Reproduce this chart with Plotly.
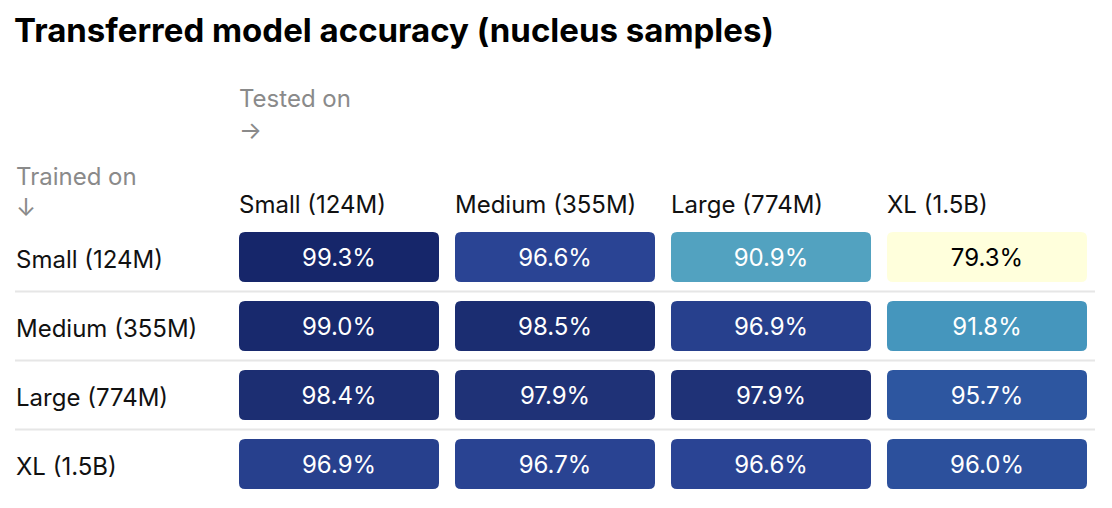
import plotly.graph_objects as go
from plotly.colors import sample_colorscale

# ---- data ----
title = "Transferred model accuracy (nucleus samples)"
tested_label = "Tested on"
trained_label = "Trained on"
models = ["Small (124M)", "Medium (355M)", "Large (774M)", "XL (1.5B)"]
# rows: trained on ; cols: tested on
acc_small = [99.3, 96.6, 90.9, 79.3]
acc_medium = [99.0, 98.5, 96.9, 91.8]
acc_large = [98.4, 97.9, 97.9, 95.7]
acc_xl = [96.9, 96.7, 96.6, 96.0]
matrix = [acc_small, acc_medium, acc_large, acc_xl]

# ---- style ----
W, H = 1112, 508
OFF = 8  # page body margin
FONT = "Inter"
colorscale = [
    [0.0, "#ffffdc"],
    [0.30, "#c2e6b6"],
    [0.58, "#52a2c0"],
    [0.625, "#4596bd"],
    [0.82, "#2d56a0"],
    [0.865, "#2a4494"],
    [0.93, "#1f3277"],
    [1.0, "#16266a"],
]
vmin = min(min(r) for r in matrix)
vmax = max(max(r) for r in matrix)

# pixel geometry -> axis units
col_px, col0_px, cell_w = 216, 339 - OFF, 200
row_px, row0_px, cell_h = 69, 257 - OFF, 50
xr = [-col0_px / col_px, (W - col0_px) / col_px]
yr = [(H - row0_px) / row_px, -row0_px / row_px]
hw = cell_w / 2 / col_px
hh = cell_h / 2 / row_px
rx = 6 / col_px
ry = 6 / row_px
text_dy = 3 / row_px


def ypx(p):
    return (p - OFF - row0_px) / row_px


def rounded(x0, x1, y0, y1):
    return (f"M {x0+rx},{y0} L {x1-rx},{y0} Q {x1},{y0} {x1},{y0+ry} "
            f"L {x1},{y1-ry} Q {x1},{y1} {x1-rx},{y1} L {x0+rx},{y1} "
            f"Q {x0},{y1} {x0},{y1-ry} L {x0},{y0+ry} Q {x0},{y0} {x0+rx},{y0} Z")


shapes = []
xs, ys, texts, tcolors = [], [], [], []
for j, row in enumerate(matrix):
    for i, v in enumerate(row):
        t = (v - vmin) / (vmax - vmin)
        c = sample_colorscale(colorscale, [t])[0]
        shapes.append(dict(type="path", xref="x", yref="y",
                           path=rounded(i - hw, i + hw, j - hh, j + hh),
                           fillcolor=c, line=dict(width=0), layer="below"))
        xs.append(i)
        ys.append(j + text_dy)
        texts.append(f"{v:.1f}%")
        tcolors.append("#000000" if t < 0.3 else "#ffffff")

for j in range(len(matrix) - 1):
    shapes.append(dict(type="line", xref="paper", yref="y",
                       x0=(15 - OFF) / W, x1=(1095 - OFF) / W, y0=j + 0.5, y1=j + 0.5,
                       line=dict(color="#e6e6e6", width=2), layer="below"))

fig = go.Figure()
fig.add_trace(go.Scatter(x=xs, y=ys, mode="text", text=texts,
                         textfont=dict(family=FONT, size=24, color=tcolors),
                         hoverinfo="skip", showlegend=False))

SZ = 24
lx = (16 - OFF) / W
ann = []
for i, m in enumerate(models):
    ann.append(dict(x=i - hw, y=ypx(204), xref="x", yref="y",
                    text=m, showarrow=False, xanchor="left", yanchor="middle",
                    xshift=-2, font=dict(family=FONT, size=SZ, color="#111111")))
    ann.append(dict(x=lx, y=i, xref="paper", yref="y",
                    text=m, showarrow=False, xanchor="left", yanchor="middle",
                    xshift=-2, yshift=-2, font=dict(family=FONT, size=SZ, color="#111111")))

gray = "#8a8a8a"
ann.append(dict(x=-hw, y=ypx(98), xref="x", yref="y", xshift=-2,
                text=tested_label, showarrow=False, xanchor="left", yanchor="middle",
                font=dict(family=FONT, size=SZ, color=gray)))
ann.append(dict(x=-hw, y=ypx(130), xref="x", yref="y", xshift=-2,
                text="→", showarrow=False, xanchor="left", yanchor="middle",
                font=dict(family=FONT, size=SZ, color=gray)))
ann.append(dict(x=lx, y=ypx(176), xref="paper", yref="y", xshift=-2,
                text=trained_label, showarrow=False, xanchor="left", yanchor="middle",
                font=dict(family=FONT, size=SZ, color=gray)))
ann.append(dict(x=lx, y=ypx(207), xref="paper", yref="y", xshift=-2,
                text="↓", showarrow=False, xanchor="left", yanchor="middle",
                font=dict(family=FONT, size=SZ, color=gray)))

fig.update_layout(
    width=W, height=H,
    margin=dict(l=0, r=0, t=0, b=0),
    paper_bgcolor="white", plot_bgcolor="white",
    title=dict(text=f"<b>{title}</b>", x=(14 - OFF) / W, xanchor="left", xref="paper",
               y=1 - (30 - OFF) / H, yanchor="middle", yref="container",
               font=dict(family=FONT, size=33, color="#000000")),
    xaxis=dict(range=xr, visible=False, fixedrange=True),
    yaxis=dict(range=yr, visible=False, fixedrange=True),
    shapes=shapes, annotations=ann,
)
fig.write_html("out.html")
